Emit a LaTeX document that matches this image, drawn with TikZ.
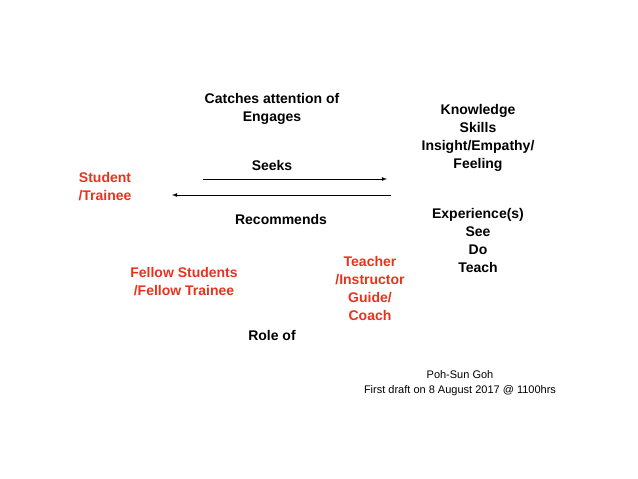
\documentclass[tikz,border=0pt]{standalone}
\usepackage{fontspec}
\setmainfont{Liberation Sans}
\begin{document}
\begin{tikzpicture}[x=1pt,y=-1pt,
  lbl/.style={font=\fontsize{14}{18}\selectfont\bfseries, align=center, inner sep=0pt},
  red/.style={lbl, text={rgb,255:red,232;green,50;blue,30}},
  small/.style={font=\fontsize{11}{15}\selectfont, align=center, inner sep=0pt},
  arr/.style={-latex, line width=0.8pt}]
\useasboundingbox (0,0) rectangle (638,479);
\node[lbl] (catch) at (272,109) {Catches attention of\\Engages};
\node[lbl] (know) at (478,138) {Knowledge\\Skills\\Insight/Empathy/\\Feeling};
\node[lbl] (seeks) at (272,165) {Seeks};
\node[red] (student) at (105,187) {Student\\/Trainee};
\coordinate (a1) at (203,179);
\coordinate (a2) at (387,179);
\coordinate (b1) at (391,195);
\coordinate (b2) at (172,195);
\draw[arr] (a1) -- (a2);
\draw[arr] (b1) -- (b2);
\node[lbl] (rec) at (281,219) {Recommends};
\node[lbl] (exp) at (478,240) {Experience(s)\\See\\Do\\Teach};
\node[red] (teacher) at (370,288) {Teacher\\/Instructor\\Guide/\\Coach};
\node[red] (fellow) at (184,282) {Fellow Students\\/Fellow Trainee};
\node[lbl] (role) at (272,335) {Role of};
\node[small] (auth) at (460,383) {Poh-Sun Goh\\First draft on 8 August 2017 @ 1100hrs};
\end{tikzpicture}
\end{document}
